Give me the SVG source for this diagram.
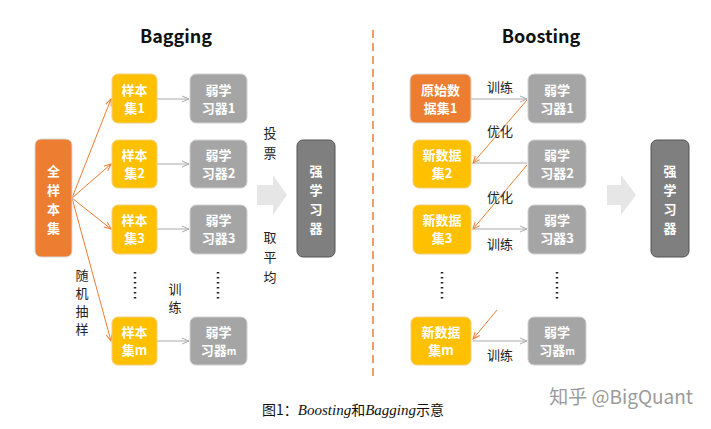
<svg xmlns="http://www.w3.org/2000/svg" width="711" height="429" viewBox="0 0 711 429">
<style>
text{font-family:"Noto Sans CJK SC","Liberation Sans",sans-serif}
.b{font-weight:bold;fill:#fff;font-size:13px;text-anchor:middle}
.or{fill:#ed7d31;stroke:#d9d9d9}
.ye{fill:#ffc000;stroke:#f0d080}
.gr{fill:#a5a5a5;stroke:#d0d0d0}
.dk{fill:#7f7f7f;stroke:#555}
.l{font-size:13px;fill:#222;text-anchor:middle}
.e{stroke:#ed7d31;stroke-width:1;fill:none}
.g{stroke:#aaa;stroke-width:1;fill:none}
.dot{stroke:#222;stroke-width:2.5;stroke-dasharray:1.5 3.5}
</style>
<defs>
<marker id="ao" markerWidth="8" markerHeight="8" refX="7" refY="4" orient="auto" markerUnits="userSpaceOnUse"><path d="M0,1 L7,4 L0,7" fill="none" stroke="#ed7d31"/></marker>
<marker id="ag" markerWidth="8" markerHeight="8" refX="7" refY="4" orient="auto" markerUnits="userSpaceOnUse"><path d="M0,1 L7,4 L0,7" fill="none" stroke="#aaa"/></marker>
</defs>
<rect width="711" height="429" fill="#fff"/>
<text x="176" y="43" font-size="18" font-weight="bold" text-anchor="middle" fill="#111">Bagging</text>
<text x="541" y="43" font-size="18" font-weight="bold" text-anchor="middle" fill="#111">Boosting</text>
<line x1="373" y1="30" x2="373" y2="378" stroke="#ed7d31" stroke-width="1.5" stroke-dasharray="8 5"/>
<g id="connectors">
<path class="e" d="M72,198 L111,99" marker-end="url(#ao)"/>
<path class="e" d="M72,198 L111,164" marker-end="url(#ao)"/>
<path class="e" d="M72,198 L111,229" marker-end="url(#ao)"/>
<path class="e" d="M72,198 L111,341" marker-end="url(#ao)"/>
<path class="g" d="M157,99 L189,99" marker-end="url(#ag)"/>
<path class="g" d="M157,164 L189,164" marker-end="url(#ag)"/>
<path class="g" d="M157,229 L189,229" marker-end="url(#ag)"/>
<path class="g" d="M157,341 L189,341" marker-end="url(#ag)"/>
<path class="g" d="M471,99 L527,99" marker-end="url(#ag)"/>
<path class="e" d="M527,100 L473,163" marker-end="url(#ao)"/>
<path class="g" d="M473,163 L527,163"/>
<path class="e" d="M527,165 L473,229" marker-end="url(#ao)"/>
<path class="g" d="M473,229 L527,229" marker-end="url(#ag)"/>
<path class="e" d="M497,310 L473,339" marker-end="url(#ao)"/>
<path class="g" d="M473,341 L527,341" marker-end="url(#ag)"/>
<path d="M257,185 L273,185 L273,175 L287,195 L273,215 L273,205 L257,205 Z" fill="#e6e6e6"/>
<path d="M607,185 L621,185 L621,175 L636,195 L621,215 L621,205 L607,205 Z" fill="#e6e6e6"/>
</g>
<g id="all"><rect class="or" x="35" y="139" width="37" height="118" rx="6"/><text class="b" x="53.5" y="176">全</text><text class="b" x="53.5" y="195">样</text><text class="b" x="53.5" y="214">本</text><text class="b" x="53.5" y="233">集</text></g>
<g id="s1"><rect class="ye" x="112" y="74" width="45" height="49" rx="6"/><text class="b" x="134.5" y="95">样本</text><text class="b" x="134.5" y="113">集1</text></g>
<g id="s2"><rect class="ye" x="112" y="140" width="45" height="48" rx="6"/><text class="b" x="134.5" y="160">样本</text><text class="b" x="134.5" y="178">集2</text></g>
<g id="s3"><rect class="ye" x="112" y="205" width="45" height="49" rx="6"/><text class="b" x="134.5" y="225">样本</text><text class="b" x="134.5" y="243">集3</text></g>
<g id="sm"><rect class="ye" x="112" y="317" width="45" height="48" rx="6"/><text class="b" x="134.5" y="337">样本</text><text class="b" x="134.5" y="355">集m</text></g>
<g id="w1"><rect class="gr" x="190" y="74" width="57" height="49" rx="6"/><text class="b" x="218.5" y="95">弱学</text><text class="b" x="218.5" y="113">习器1</text></g>
<g id="w2"><rect class="gr" x="190" y="140" width="57" height="48" rx="6"/><text class="b" x="218.5" y="160">弱学</text><text class="b" x="218.5" y="178">习器2</text></g>
<g id="w3"><rect class="gr" x="190" y="205" width="57" height="49" rx="6"/><text class="b" x="218.5" y="225">弱学</text><text class="b" x="218.5" y="243">习器3</text></g>
<g id="wm"><rect class="gr" x="190" y="317" width="57" height="48" rx="6"/><text class="b" x="218.5" y="337">弱学</text><text class="b" x="218.5" y="355">习器<tspan font-size="10">m</tspan></text></g>
<g id="strong1"><rect class="dk" x="297" y="140" width="38" height="117" rx="6"/><text class="b" x="316" y="176">强</text><text class="b" x="316" y="195">学</text><text class="b" x="316" y="214">习</text><text class="b" x="316" y="233">器</text></g>
<line class="dot" x1="135" y1="272" x2="135" y2="302"/>
<line class="dot" x1="218" y1="272" x2="218" y2="302"/>
<text class="l" x="270" y="138">投</text><text class="l" x="270" y="158">票</text>
<text class="l" x="270" y="242">取</text><text class="l" x="270" y="262">平</text><text class="l" x="270" y="282">均</text>
<text class="l" x="82" y="280">随</text><text class="l" x="82" y="298">机</text><text class="l" x="82" y="316">抽</text><text class="l" x="82" y="334">样</text>
<text class="l" x="175" y="294">训</text><text class="l" x="175" y="312">练</text>
<g id="b1"><rect class="or" x="410" y="74" width="61" height="49" rx="6"/><text class="b" x="440.5" y="95">原始数</text><text class="b" x="440.5" y="113">据集1</text></g>
<g id="b2"><rect class="ye" x="413" y="140" width="58" height="48" rx="6"/><text class="b" x="442" y="160">新数据</text><text class="b" x="442" y="178">集2</text></g>
<g id="b3"><rect class="ye" x="413" y="205" width="58" height="49" rx="6"/><text class="b" x="442" y="225">新数据</text><text class="b" x="442" y="243">集3</text></g>
<g id="bm"><rect class="ye" x="411" y="317" width="60" height="48" rx="6"/><text class="b" x="441" y="337">新数据</text><text class="b" x="441" y="355">集m</text></g>
<g id="bw1"><rect class="gr" x="528" y="74" width="58" height="49" rx="6"/><text class="b" x="557" y="95">弱学</text><text class="b" x="557" y="113">习器1</text></g>
<g id="bw2"><rect class="gr" x="528" y="140" width="58" height="48" rx="6"/><text class="b" x="557" y="160">弱学</text><text class="b" x="557" y="178">习器2</text></g>
<g id="bw3"><rect class="gr" x="528" y="205" width="58" height="49" rx="6"/><text class="b" x="557" y="225">弱学</text><text class="b" x="557" y="243">习器3</text></g>
<g id="bwm"><rect class="gr" x="528" y="317" width="58" height="48" rx="6"/><text class="b" x="557" y="337">弱学</text><text class="b" x="557" y="355">习器<tspan font-size="10">m</tspan></text></g>
<g id="strong2"><rect class="dk" x="651" y="140" width="38" height="117" rx="6"/><text class="b" x="670" y="176">强</text><text class="b" x="670" y="195">学</text><text class="b" x="670" y="214">习</text><text class="b" x="670" y="233">器</text></g>
<line class="dot" x1="442" y1="272" x2="442" y2="302"/>
<line class="dot" x1="557" y1="272" x2="557" y2="302"/>
<text class="l" x="500" y="92">训练</text>
<text class="l" x="500" y="136">优化</text>
<text class="l" x="500" y="202">优化</text>
<text class="l" x="500" y="249">训练</text>
<text class="l" x="500" y="360">训练</text>
<text x="353" y="415" font-size="14" text-anchor="middle" fill="#111">图1：<tspan font-style="italic" font-size="15" font-family="Liberation Serif,serif">Boosting</tspan>和<tspan font-style="italic" font-size="15" font-family="Liberation Serif,serif">Bagging</tspan>示意</text>
<text x="693" y="404" font-size="19" text-anchor="end" fill="#9a9a9a">知乎 @BigQuant</text>
</svg>
